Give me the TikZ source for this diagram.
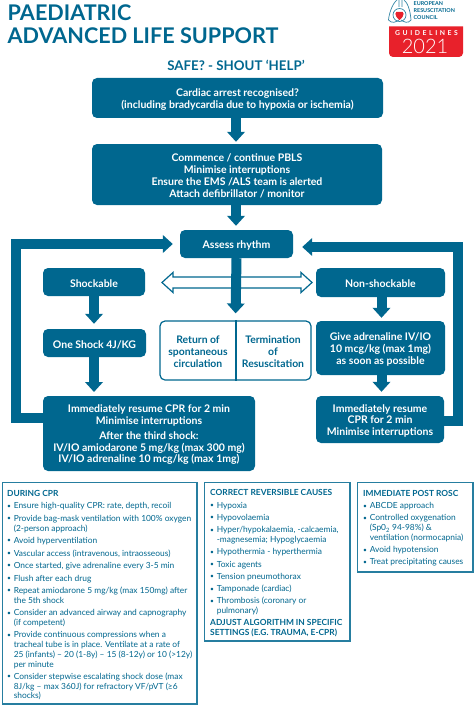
\documentclass[tikz,border=0pt]{standalone}
\usepackage{fontspec}
\setmainfont{Lato}
\newfontfamily\lightf{Lato Light}
\usetikzlibrary{arrows.meta,calc}
\definecolor{erc}{HTML}{00678F}
\definecolor{ercred}{HTML}{E8212B}
\newcommand{\bul}{\makebox[6.6pt][l]{\raisebox{0.6pt}{\scalebox{0.8}{\textbullet}}}}
\newcommand{\cnt}{\hspace*{6.6pt}}
\tikzset{
  x=1pt,y=-1pt,
  fbox/.style={fill=erc,rounded corners=5pt,inner sep=0pt},
  ftext/.style={text=white,font=\fontsize{10.5}{11.9}\selectfont\bfseries,align=center,inner sep=0pt,yshift=-1.4pt},
  obox/.style={draw=erc,line width=1.2pt,rounded corners=5pt,fill=white},
  otext/.style={text=erc,font=\fontsize{10.4}{11.9}\selectfont\bfseries,align=center,inner sep=0pt},
  panel/.style={draw=erc!85,line width=1.2pt,fill=white,inner sep=0pt},
  ptext/.style={anchor=north west,inner sep=0pt,text=erc,align=left,font=\fontsize{8.4}{9.7}\selectfont},
  bigarrow/.style={draw=erc,line width=10pt,-{Triangle[width=17.5pt,length=10pt]}},
}
\newcommand{\bx}[6][]{\node[#1,minimum width=#4-#2,minimum height=#5-#3] (#6) at ({(#2+#4)/2},{(#3+#5)/2}) {};}
\begin{document}
\begin{tikzpicture}
\useasboundingbox (0,0) rectangle (474,706);
% title
\node[anchor=north west,inner sep=0pt,text=erc,align=left,font=\fontsize{21.6}{23}\selectfont\bfseries] (title) at (7.5,4.2) {PAEDIATRIC\\ADVANCED LIFE SUPPORT};
\node[text=erc,inner sep=0pt,font=\fontsize{13.3}{14}\selectfont\bfseries] (safe) at (236,65.5) {SAFE? - SHOUT ‘HELP’};
% logo
\draw[erc!80,line width=0.7pt] (399,0) -- (399,7) (402,0) -- (402,7)
  (397,0) .. controls (392,4) and (389,14) .. (388.5,20) .. controls (392,24) and (396,22) .. (399,20)
  (404,0) .. controls (409,4) and (410.5,14) .. (411,20) .. controls (408,24) and (404,22) .. (401,20);
\fill[ercred] (399.5,20) .. controls (394,16) and (394,10) .. (399.5,12) .. controls (405,10) and (405,16) .. (399.5,20) -- cycle;
\draw[erc!80,line width=0.7pt] (399.5,15) circle (6.5);
\node[anchor=north west,inner sep=0pt,text=erc,align=left,font=\fontsize{5.4}{7.4}\selectfont\bfseries] (ercname) at (413.5,1) {EUROPEAN\\RESUSCITATION\\COUNCIL};
\path[fill=ercred] (389,26.5) -- (463,26.5) -- (463,53) arc[start angle=0,end angle=90,radius=4] -- (393,57) arc[start angle=90,end angle=180,radius=4] -- cycle;
\node[text=white,inner sep=0pt,font=\fontsize{6.8}{8}\selectfont\bfseries\addfontfeature{LetterSpace=38}] (gl) at (426.5,33) {GUIDELINES};
\node[text=white,inner sep=0pt,font=\fontsize{20}{20}\lightf] (yr) at (425,46.5) {2021};
% flow boxes
\bx[fbox]{92}{78}{383}{118}{b1}
\node[ftext] at (b1) {Cardiac arrest recognised?\\(including bradycardia due to hypoxia or ischemia)};
\bx[fbox]{92}{144}{382}{205}{b2}
\node[ftext] at (b2) {Commence / continue PBLS\\Minimise interruptions\\Ensure the EMS /ALS team is alerted\\Attach defibrillator / monitor};
\bx[fbox]{180}{230}{293}{258}{assess}
\node[ftext] at (assess) {Assess rhythm};
\bx[fbox]{43}{268}{145}{296}{shock}
\node[ftext] at (shock) {Shockable};
\bx[fbox]{316}{268}{445}{297}{nons}
\node[ftext] at (nons) {Non-shockable};
\bx[fbox]{43}{329}{146}{357}{one}
\node[ftext] at (one) {One Shock 4J/KG};
\bx[fbox]{316}{321}{445}{375}{give}
\node[ftext] at (give) {Give adrenaline IV/IO\\10 mcg/kg (max 1mg)\\as soon as possible};
\bx[fbox]{43}{396}{255}{471}{lcpr}
\node[ftext] at (lcpr) {Immediately resume CPR for 2 min\\Minimise interruptions\\[2.5pt]After the third shock:\\IV/IO amiodarone 5 mg/kg (max 300 mg)\\IV/IO adrenaline 10 mcg/kg (max 1mg)};
\bx[fbox]{316}{396}{444}{443}{rcpr}
\node[ftext] at (rcpr) {Immediately resume\\CPR for 2 min\\Minimise interruptions};
% double white arrow (behind central arrow)
\coordinate (dl) at (162,282.5);
\coordinate (dr) at (312,282.5);
\draw[erc,line width=1.2pt,fill=white,line join=miter] (dl) -- (173,272.5) -- (173,277) -- (301,277) -- (301,272.5) -- (dr) -- (301,292.5) -- (301,288) -- (173,288) -- (173,292.5) -- cycle;
% outlined result box
\bx[obox]{160}{321}{311}{380}{res}
\draw[erc,line width=1.2pt] (res.north) ++(0.5,0) -- ($(res.south)+(0.5,0)$);
\node[otext] (rosc) at (198,351.5) {Return of\\spontaneous\\circulation};
\node[otext] (term) at (273,351.5) {Termination\\of\\Resuscitation};
% arrows
\draw[bigarrow,shorten >=2pt] (236,118) -- (b2.north -| 236,144);
\draw[bigarrow,shorten >=4pt] (236,205) -- (assess.north -| 236,230);
\draw[bigarrow,shorten >=7pt] (assess.south) -- (res.north);
\draw[bigarrow,shorten >=5pt] (shock.south -| 94,296) -- (one.north -| 94,329);
\draw[bigarrow,shorten >=4pt] (one.south -| 94,357) -- (94,396);
\draw[bigarrow,shorten >=3pt] (nons.south -| 381.5,297) -- (give.north -| 381.5,321);
\draw[bigarrow,shorten >=4pt] (give.south -| 381.5,375) -- (rcpr.north -| 381.5,396);
\coordinate (ll) at (16,418);
\coordinate (rl) at (458,421);
\draw[bigarrow,shorten >=7pt,line join=miter] (lcpr.west |- ll) -- (ll) |- (assess.west |- 0,244);
\draw[bigarrow,shorten >=9pt,line join=miter] (rcpr.east |- rl) -- (rl) |- (assess.east |- 0,247);
% panels
\bx[panel]{2.5}{482.5}{197}{704}{p1}
\bx[panel]{204.5}{482.5}{350}{641}{p2}
\bx[panel]{357.5}{482.5}{473}{572}{p3}
\node[ptext] (t1) at (7,490) {\textbf{DURING CPR}\\[2.8pt]
\bul Ensure high-quality CPR: rate, depth, recoil\\[2.8pt]
\bul Provide bag-mask ventilation with 100\% oxygen\\
\cnt (2-person approach)\\[2.8pt]
\bul Avoid hyperventilation\\[2.8pt]
\bul Vascular access (intravenous, intraosseous)\\[2.8pt]
\bul Once started, give adrenaline every 3-5 min\\[2.8pt]
\bul Flush after each drug\\[2.8pt]
\bul Repeat amiodarone 5 mg/kg (max 150mg) after\\
\cnt the 5th shock\\[2.8pt]
\bul Consider an advanced airway and capnography\\
\cnt (if competent)\\[2.8pt]
\bul Provide continuous compressions when a\\
\cnt tracheal tube is in place. Ventilate at a rate of\\
\cnt 25 (infants) – 20 (1-8y) – 15 (8-12y) or 10 (>12y)\\
\cnt per minute\\[2.8pt]
\bul Consider stepwise escalating shock dose (max\\
\cnt 8J/kg – max 360J) for refractory VF/pVT (≥6\\
\cnt shocks)};
\node[ptext] (t2) at (210,489.5) {\textbf{CORRECT REVERSIBLE CAUSES}\\[2.6pt]
\bul Hypoxia\\[2.6pt]
\bul Hypovolaemia\\[2.6pt]
\bul Hyper/hypokalaemia, -calcaemia,\\
\cnt -magnesemia; Hypoglycaemia\\[2.6pt]
\bul Hypothermia - hyperthermia\\[2.6pt]
\bul Toxic agents\\[2.6pt]
\bul Tension pneumothorax\\[2.6pt]
\bul Tamponade (cardiac)\\[2.6pt]
\bul Thrombosis (coronary or\\
\cnt pulmonary)\\[2.6pt]
\textbf{ADJUST ALGORITHM IN SPECIFIC}\\
\textbf{SETTINGS (E.G. TRAUMA, E-CPR)}};
\node[ptext] (t3) at (363,490) {\textbf{IMMEDIATE POST ROSC}\\[2.6pt]
\bul ABCDE approach\\[2.6pt]
\bul Controlled oxygenation\\
\cnt (Sp0\textsubscript{2} 94-98\%) \&\\
\cnt ventilation (normocapnia)\\[2.6pt]
\bul Avoid hypotension\\[2.6pt]
\bul Treat precipitating causes};
\end{tikzpicture}
\end{document}
